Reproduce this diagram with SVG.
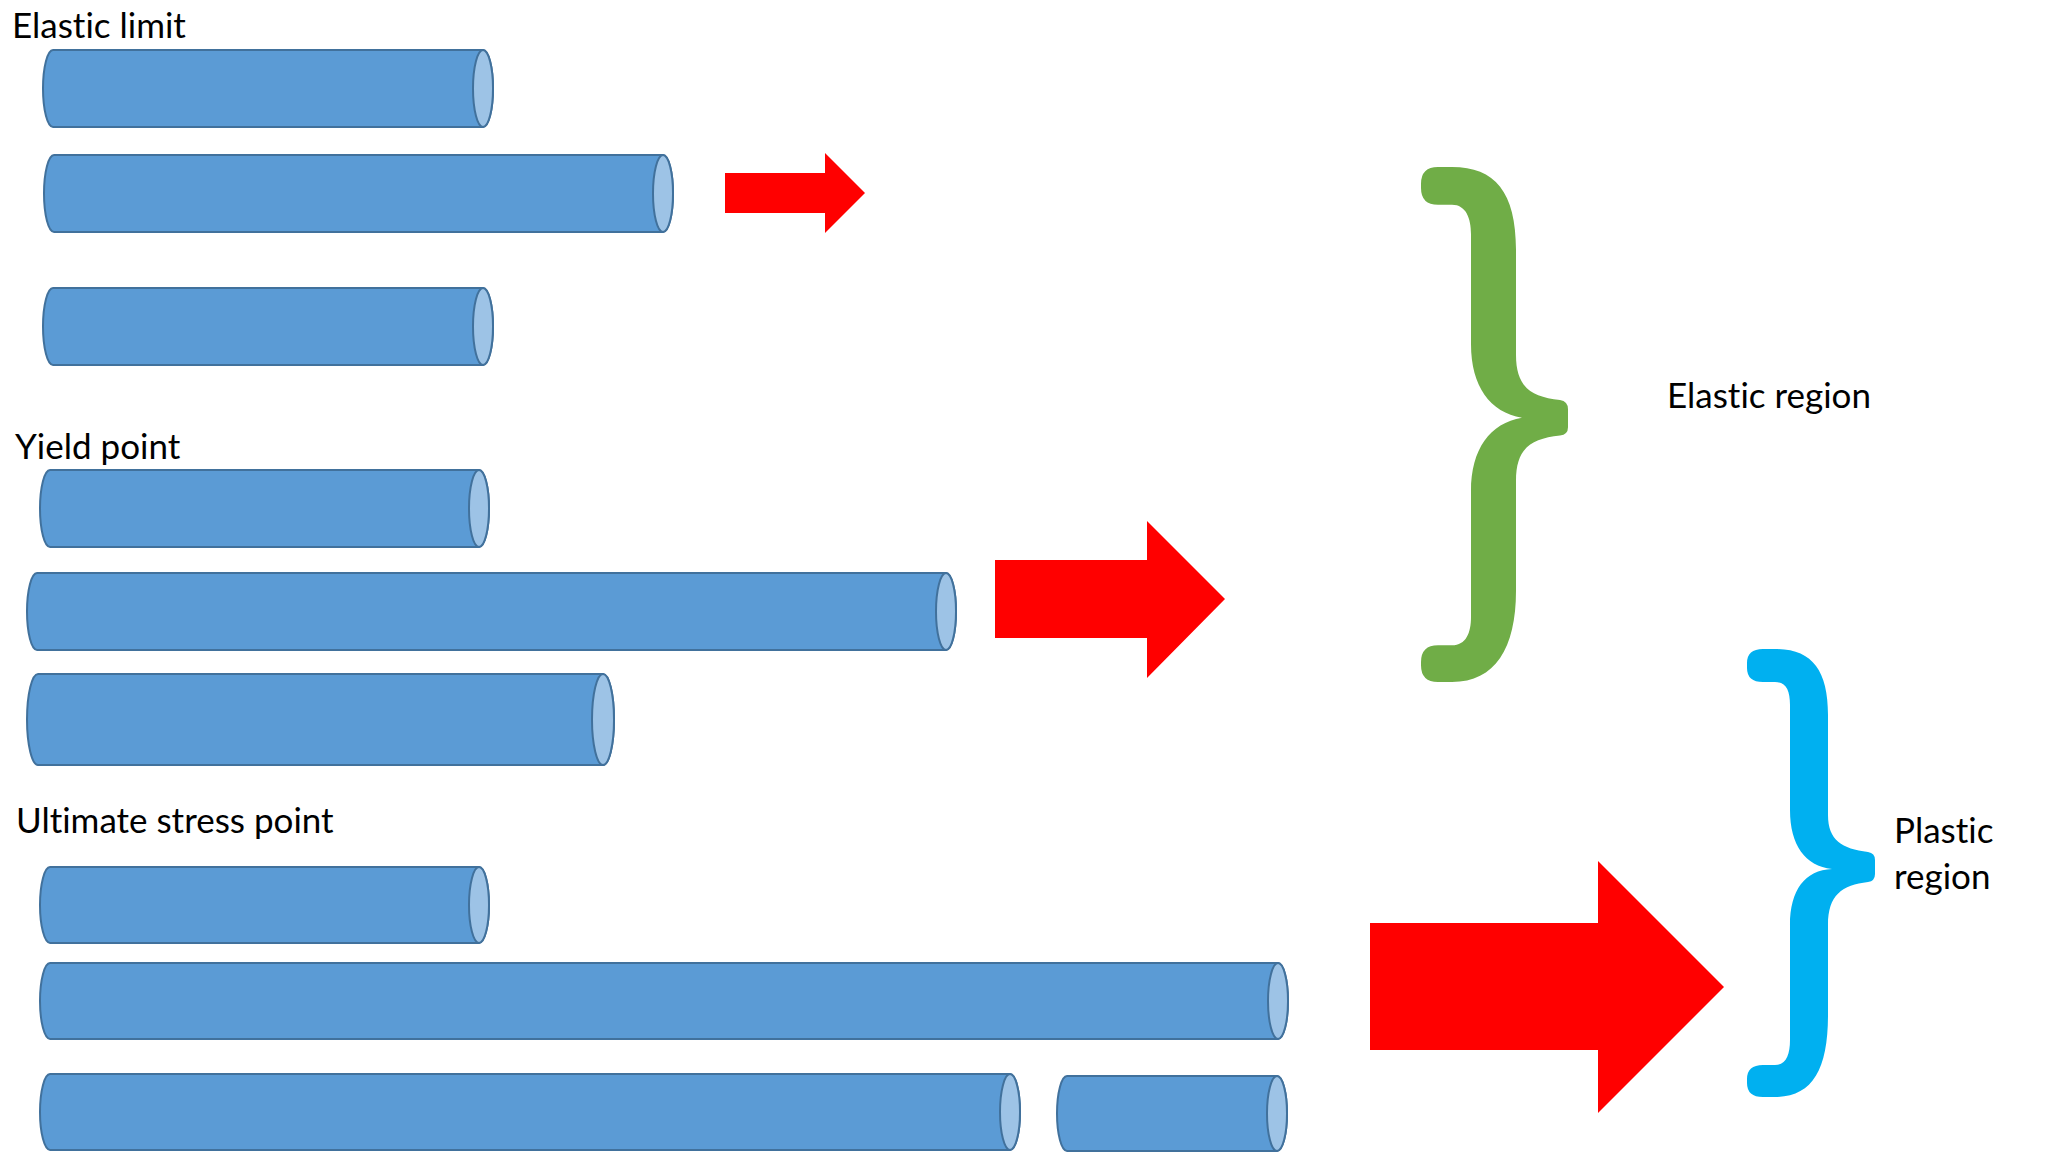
<svg xmlns="http://www.w3.org/2000/svg" width="2048" height="1152" viewBox="0 0 2048 1152">
<style>
.body{fill:#5B9BD5;stroke:#41719C;stroke-width:2}
.cap{fill:#9DC3E6;stroke:#41719C;stroke-width:2}
.arrow{fill:#FF0000}
.lbl{font-family:Lato,"Liberation Sans",sans-serif;font-size:35px;fill:#000;font-variant-ligatures:none;font-feature-settings:"liga" 0}
.rlbl{font-family:Lato,"Liberation Sans",sans-serif;font-size:35px;fill:#000;font-variant-ligatures:none;font-feature-settings:"liga" 0}
</style>
<rect width="2048" height="1152" fill="#fff"/>
<g id="label-elastic-limit"><text class="lbl" x="12" y="38">Elastic limit</text></g>
<g id="label-yield-point"><text class="lbl" x="15" y="459">Yield point</text></g>
<g id="label-ultimate"><text class="lbl" x="16" y="833">Ultimate stress point</text></g>

<g id="cyl1"><path class="body" d="M53 50 L483 50 A10 38.5 0 0 1 483 127 L53 127 A10 38.5 0 0 1 53 50 Z"/><ellipse class="cap" cx="483" cy="88.5" rx="10" ry="38.5"/></g>
<g id="cyl2"><path class="body" d="M54 155 L663 155 A10 38.5 0 0 1 663 232 L54 232 A10 38.5 0 0 1 54 155 Z"/><ellipse class="cap" cx="663" cy="193.5" rx="10" ry="38.5"/></g>
<g id="cyl3"><path class="body" d="M53 288 L483 288 A10 38.5 0 0 1 483 365 L53 365 A10 38.5 0 0 1 53 288 Z"/><ellipse class="cap" cx="483" cy="326.5" rx="10" ry="38.5"/></g>
<g id="cyl4"><path class="body" d="M50 470 L479 470 A10 38.5 0 0 1 479 547 L50 547 A10 38.5 0 0 1 50 470 Z"/><ellipse class="cap" cx="479" cy="508.5" rx="10" ry="38.5"/></g>
<g id="cyl5"><path class="body" d="M37 573 L946 573 A10 38.5 0 0 1 946 650 L37 650 A10 38.5 0 0 1 37 573 Z"/><ellipse class="cap" cx="946" cy="611.5" rx="10" ry="38.5"/></g>
<g id="cyl6"><path class="body" d="M38 674 L603 674 A11 45.5 0 0 1 603 765 L38 765 A11 45.5 0 0 1 38 674 Z"/><ellipse class="cap" cx="603" cy="719.5" rx="11" ry="45.5"/></g>
<g id="cyl7"><path class="body" d="M50 867 L479 867 A10 38 0 0 1 479 943 L50 943 A10 38 0 0 1 50 867 Z"/><ellipse class="cap" cx="479" cy="905" rx="10" ry="38"/></g>
<g id="cyl8"><path class="body" d="M50 963 L1278 963 A10 38 0 0 1 1278 1039 L50 1039 A10 38 0 0 1 50 963 Z"/><ellipse class="cap" cx="1278" cy="1001" rx="10" ry="38"/></g>
<g id="cyl9"><path class="body" d="M50 1074 L1010 1074 A10 38 0 0 1 1010 1150 L50 1150 A10 38 0 0 1 50 1074 Z"/><ellipse class="cap" cx="1010" cy="1112" rx="10" ry="38"/></g>
<g id="cyl10"><path class="body" d="M1067 1076 L1277 1076 A10 37.5 0 0 1 1277 1151 L1067 1151 A10 37.5 0 0 1 1067 1076 Z"/><ellipse class="cap" cx="1277" cy="1113.5" rx="10" ry="37.5"/></g>

<g id="connectors">
<polygon id="arrow1" class="arrow" points="725,173 825,173 825,153 865,193 825,233 825,213 725,213"/>
<polygon id="arrow2" class="arrow" points="995,560 1147,560 1147,521 1225,599 1147,678 1147,638 995,638"/>
<polygon id="arrow3" class="arrow" points="1370,923 1598,923 1598,861 1724,987 1598,1113 1598,1050 1370,1050"/>
</g>

<g id="brace-elastic">
<path fill="#70AD47" transform="translate(0,167) scale(1,1.049) translate(0,-166)" d="M1438 166 L1452 166 C1495 166 1516 190 1516 245 L1516 345 C1516 375 1530 385 1560 388 Q1568 389 1568 397 L1568 414 Q1568 421 1560 422 C1530 425 1516 435 1516 465 L1516 570 C1516 625 1495 657 1452 657 L1438 657 Q1421 657 1421 641 L1421 638 Q1421 622 1438 622 L1452 622 C1466 622 1471 610 1471 595 L1471 475 C1471 435 1490 410 1522 405 C1490 400 1471 375 1471 335 L1471 230 C1471 215 1466 202 1452 202 L1438 202 Q1421 202 1421 186 L1421 182 Q1421 166 1438 166 Z"/>
<text class="rlbl" x="1667" y="408">Elastic region</text>
</g>
<g id="brace-plastic">
<path fill="#00B0F0" d="M1763 649 L1775 649 C1812 649 1828 670 1828 715 L1828 815 C1828 840 1842 849 1868 852 Q1875 853 1875 860 L1875 874 Q1875 881 1868 882 C1842 885 1828 895 1828 925 L1828 1015 C1828 1070 1812 1097 1775 1097 L1763 1097 Q1747 1097 1747 1083 L1747 1079 Q1747 1065 1763 1065 L1775 1065 C1786 1065 1790 1055 1790 1040 L1790 925 C1790 890 1805 870 1832 869 C1805 866 1790 845 1790 810 L1790 705 C1790 690 1786 682 1775 682 L1763 682 Q1747 682 1747 668 L1747 663 Q1747 649 1763 649 Z"/>
<text class="rlbl" x="1894" y="843">Plastic</text>
<text class="rlbl" x="1894" y="889">region</text>
</g>
</svg>
